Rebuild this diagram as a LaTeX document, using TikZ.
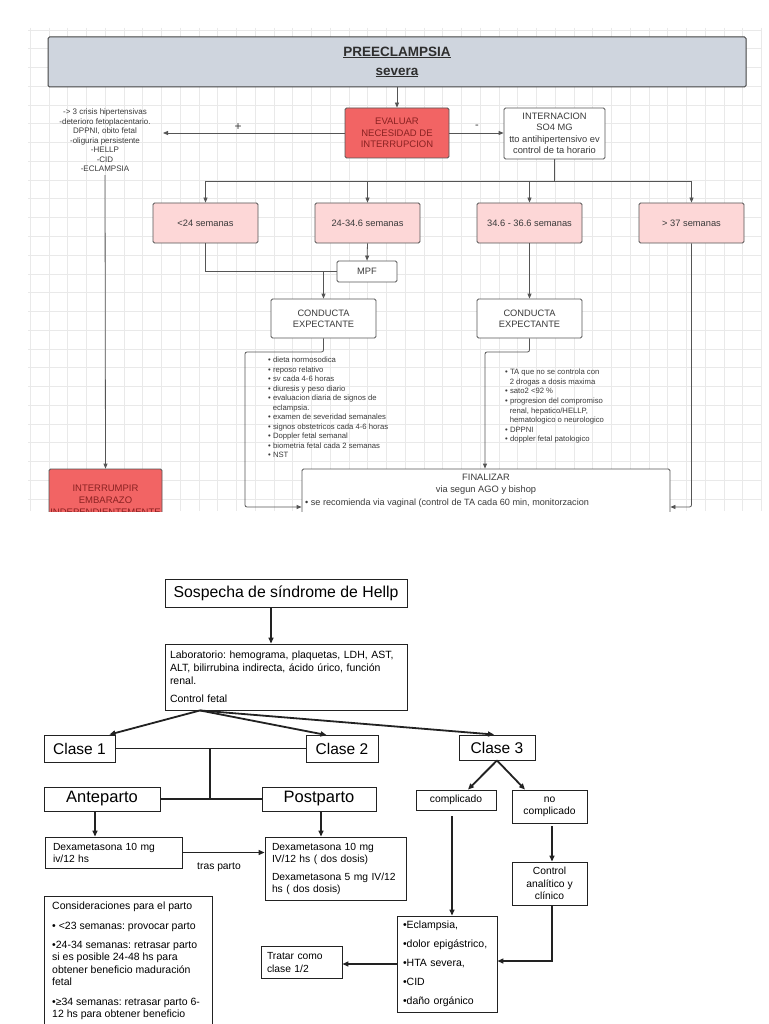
\documentclass[tikz,border=0pt]{standalone}
\usepackage{fontspec}
\setmainfont{Liberation Sans}
\usetikzlibrary{arrows.meta,calc}
\definecolor{titlefill}{HTML}{CFD5DE}
\definecolor{redfill}{HTML}{F26464}
\definecolor{redtext}{HTML}{8A2222}
\definecolor{pinkfill}{HTML}{FDD7D7}
\definecolor{tline}{HTML}{555555}
\definecolor{ttext}{HTML}{3A3A3A}
\definecolor{gridc}{HTML}{E9E9E9}
\definecolor{bline}{HTML}{222222}
\newcommand{\myfs}[2]{\fontsize{#1}{#2}\selectfont}
\frenchspacing
\begin{document}
\frenchspacing
\begin{tikzpicture}[x=1pt,y=-1pt,
  tbox/.style={draw=tline, line width=0.8pt, rounded corners=1.5pt, inner sep=0pt, align=center, text=ttext, font=\myfs{9.3}{11.4}},
  pbox/.style={tbox, fill=pinkfill, minimum width=105pt, minimum height=40pt},
  rbox/.style={tbox, fill=redfill, text=redtext, font=\myfs{9.5}{11.6}},
  tl/.style={draw=tline, line width=0.8pt},
  tarrow/.style={tl, -{Triangle[length=5pt,width=4pt]}},
  ttxt/.style={text=ttext, inner sep=0pt},
  bbox/.style={draw=bline, line width=0.9pt, inner sep=0pt, text=black, align=center, font=\myfs{10.3}{12}},
  bl/.style={draw=bline, line width=1.1pt},
  barrow/.style={bl, line width=1.4pt, -{Triangle[length=6pt,width=5pt]}},
  barrowthick/.style={bl, line width=1.8pt, -{Triangle[length=6pt,width=5pt]}}
]
\useasboundingbox (0,0) rectangle (768,1024);
\fill[white] (0,0) rectangle (768,1024);

% ---------------- top diagram ----------------
\begin{scope}
\clip (0,0) rectangle (768,511);
\foreach \i in {0,...,39} {\draw[gridc, line width=0.5pt] ({30+\i*18.75},28) -- ({30+\i*18.75},511);}
\foreach \j in {0,...,26} {\draw[gridc, line width=0.5pt] (28,{30+\j*18.75}) -- (762,{30+\j*18.75});}

\node[tbox, fill=titlefill, draw=tline!80!black, line width=1pt, minimum width=698pt, minimum height=50pt,
      font=\bfseries\myfs{13.5}{19}, text=ttext!80!black] (title) at (397,62) {\underline{PREECLAMPSIA}\\\underline{severa}};

\node[rbox, minimum width=104pt, minimum height=50pt] (eval) at (397,133) {EVALUAR\\NECESIDAD DE\\INTERRUPCION};
\node[tbox, fill=white, minimum width=101pt, minimum height=51pt] (intern) at (554.5,133.5) {INTERNACION\\SO4 MG\\tto antihipertensivo ev\\control de ta horario};
\node[ttxt, align=center, font=\myfs{8}{9.5}] (crit) at (105,140.5) {-> 3 crisis hipertensivas\\-deterioro fetoplacentario.\\DPPNI, obito fetal\\-oliguria persistente\\-HELLP\\-CID\\-ECLAMPSIA};

\draw[tarrow] (title.south) -- (eval.north);
\coordinate (plustip) at (163,133);
\draw[tarrow] (eval.west) -- (plustip);
\node[ttxt, font=\myfs{12}{12}] (plus) at (238,127) {+};
\draw[tarrow] (eval.east) -- (eval.east -| intern.west);
\node[ttxt, font=\myfs{11}{11}] (minus) at (477,127) {-};

\node[pbox] (p1) at (205.5,223) {<24 semanas};
\node[pbox] (p2) at (367.5,223) {24-34.6 semanas};
\node[pbox] (p3) at (529.5,223) {34.6 - 36.6 semanas};
\node[pbox] (p4) at (691.5,223) {> 37 semanas};

\coordinate (busL) at (205.5,181);
\coordinate (busR) at (691.5,181);
\draw[tl] (intern.south) -- (intern.south |- busL);
\draw[tl] (busL) -- (busR);
\foreach \p in {p1,p2,p3,p4} {\draw[tarrow] (\p.north |- busL) -- (\p.north);}

\node[tbox, fill=white, minimum width=60pt, minimum height=21pt] (mpf) at (367,271.5) {MPF};
\node[tbox, fill=white, minimum width=105pt, minimum height=39pt] (ce1) at (323.5,318.5) {CONDUCTA\\EXPECTANTE};
\node[tbox, fill=white, minimum width=105pt, minimum height=39pt] (ce2) at (529.5,318.5) {CONDUCTA\\EXPECTANTE};

\draw[tarrow] (p2.south) -- (mpf.north);
\draw[tarrow] (p1.south) |- (ce1.north |- mpf.west) -- (ce1.north);
\draw[tl] (mpf.west) -- (ce1.north |- mpf.west);
\draw[tarrow] (p3.south) -- (ce2.north);

\node[ttxt, anchor=north west, align=left, font=\myfs{7.7}{9.5}] (list1) at (268,357) {%
• dieta normosodica\\• reposo relativo\\• sv cada 4-6 horas\\• diuresis y peso diario\\%
• evaluacion diaria de signos de\\\hspace*{4.6pt}eclampsia.\\• examen de severidad semanales\\%
• signos obstetricos cada 4-6 horas\\• Doppler fetal semanal\\• biometria fetal cada 2 semanas\\• NST};
\node[ttxt, anchor=north west, align=left, font=\myfs{7.7}{9.6}] (list2) at (505,369) {%
• TA que no se controla con\\\hspace*{4.6pt}2 drogas a dosis maxima\\• sato2 <92 \%\\• progresion del compromiso\\%
\hspace*{4.6pt}renal, hepatico/HELLP,\\\hspace*{4.6pt}hematologico o neurologico\\• DPPNI\\• doppler fetal patologico};

\node[tbox, fill=white, minimum width=368pt, minimum height=76pt] (fin) at (486,507) {};
\node[ttxt, align=center, font=\myfs{9.3}{12.5}] (fint) at (486,484.5) {FINALIZAR\\via segun AGO y bishop};
\node[ttxt, anchor=west, font=\myfs{9.1}{11}] (finb) at (305,503) {• se recomienda via vaginal (control de TA cada 60 min, monitorzacion};

\node[rbox, minimum width=113pt, minimum height=62pt, font=\myfs{9.5}{12}] (interr) at (105.5,500) {INTERRUMPIR\\EMBARAZO\\INDEPENDIENTEMENTE};
\draw[tarrow] ([yshift=-3pt]crit.south) -- (interr.north);

\coordinate (l1) at (245,352);
\coordinate (l2) at (485,352);
\draw[tarrow, rounded corners=2pt] (ce1.south) |- (l1) |- (fin.west);
\draw[tarrow, rounded corners=2pt] (ce2.south) |- (l2) -- (l2 |- fin.north);
\draw[tarrow, rounded corners=2pt] (p4.south) |- (fin.east);
\end{scope}

% ---------------- bottom diagram ----------------
\begin{scope}
\clip (0,511) rectangle (768,1024);
\node[bbox, minimum width=242pt, minimum height=28pt, font=\myfs{15.8}{18}] (sos) at (286,593) {Sospecha de síndrome de Hellp};
\node[bbox, minimum width=242pt, minimum height=66pt, text width=232pt, align=left, font=\myfs{10.5}{12.7}] (lab) at (286,677)
  {Laboratorio: hemograma, plaquetas, LDH, AST,\\ALT, bilirrubina indirecta, ácido úrico, función\\renal.\\[6pt]Control fetal};
\coordinate (s1) at ([xshift=-15pt]sos.south);
\draw[barrow] (s1) -- (s1 |- lab.north);

\node[bbox, minimum width=71pt, minimum height=27pt, font=\myfs{15.5}{18}] (c1) at (79.5,748.5) {Clase 1};
\node[bbox, minimum width=72pt, minimum height=27pt, font=\myfs{15.5}{18}] (c2) at (342,749) {Clase 2};
\node[bbox, minimum width=76pt, minimum height=25pt, font=\myfs{15.5}{18}] (c3) at (497,747.5) {Clase 3};
\coordinate (lo) at ([xshift=-86pt]lab.south);
\draw[barrowthick] (lo) -- ([xshift=-6pt]c1.north east);
\draw[barrowthick] (lo) -- ([xshift=21pt]c2.north west);
\draw[barrowthick] (lo) -- ([xshift=-3pt]c3.north);

\node[bbox, minimum width=116pt, minimum height=24pt, font=\myfs{16.5}{18}] (ante) at (102,799) {Anteparto};
\node[bbox, minimum width=114pt, minimum height=24pt, font=\myfs{16.5}{18}] (post) at (319,799) {Postparto};
\draw[bl] (c1.east) -- (c1.east -| c2.west);
\coordinate (j1) at (210,748.5);
\draw[bl] (j1) -- (j1 |- ante.east);
\draw[bl] (ante.east) -- (post.west);

\node[bbox, minimum width=137pt, minimum height=31pt, text width=121pt, align=left] (dex1) at (113.5,852.5) {Dexametasona 10 mg\\iv/12 hs};
\node[bbox, minimum width=141pt, minimum height=63pt, text width=127pt, align=left] (dex2) at (335.5,868.5)
  {Dexametasona 10 mg\\IV/12 hs ( dos dosis)\\[6pt]Dexametasona 5 mg IV/12\\hs ( dos dosis)};
\coordinate (a1) at ([xshift=-7pt]ante.south);
\draw[barrow] (a1) -- (a1 |- dex1.north);
\coordinate (a2) at ([xshift=2pt]post.south);
\draw[barrow] (a2) -- (a2 |- dex2.north);
\draw[barrow] (dex1.east) -- (dex1.east -| dex2.west);
\node[inner sep=0pt, font=\myfs{10.3}{12}] (tras) at (219,867) {tras parto};

\node[bbox, anchor=north west, minimum width=168pt, minimum height=140pt] (cons) at (44,896) {};
\node[anchor=north west, align=left, inner sep=0pt, font=\myfs{10.5}{12.3}] (const) at (52,902) {%
Consideraciones para el parto\\[7.5pt]• <23 semanas: provocar parto\\[6.7pt]•24-34 semanas: retrasar parto\\si es posible 24-48 hs para\\%
obtener beneficio maduración\\fetal\\[7.5pt]•≥34 semanas: retrasar parto 6-\\12 hs para obtener beneficio};

\node[bbox, minimum width=80pt, minimum height=20pt] (comp) at (456,800) {complicado};
\node[bbox, minimum width=75pt, minimum height=33pt] (nocomp) at (549.5,806.5) {no\\complicado};
\node[bbox, minimum width=75pt, minimum height=43pt, font=\myfs{10.3}{12.5}] (ctrl) at (549.5,883.5) {Control\\analítico y\\clínico};
\node[bbox, minimum width=100pt, minimum height=96pt, text width=88pt, align=left, font=\myfs{10.5}{19}] (ecl) at (447,964)
  {•Eclampsia,\\•dolor epigástrico,\\•HTA severa,\\•CID\\•daño orgánico};
\node[bbox, minimum width=81pt, minimum height=32pt, text width=69pt, align=left, font=\myfs{10.3}{13}] (tratar) at (301.5,962) {Tratar como\\clase 1/2};

\draw[barrowthick] (c3.south) -- ([xshift=12pt]comp.north);
\draw[barrowthick] (c3.south) -- ([xshift=-24.5pt]nocomp.north);
\coordinate (a3) at ([xshift=-4pt,yshift=-6pt]comp.south);
\draw[barrow] (a3) -- (a3 |- ecl.north);
\coordinate (a4) at ([xshift=2.5pt,yshift=-3pt]nocomp.south);
\draw[barrow] (a4) -- (a4 |- ctrl.north);
\coordinate (a5) at ([xshift=2.5pt]ctrl.south);
\draw[barrow] (a5) |- ([yshift=3pt]ecl.east);
\draw[barrow] (ecl.west) -- (ecl.west -| tratar.east);
\end{scope}
\end{tikzpicture}
\end{document}
